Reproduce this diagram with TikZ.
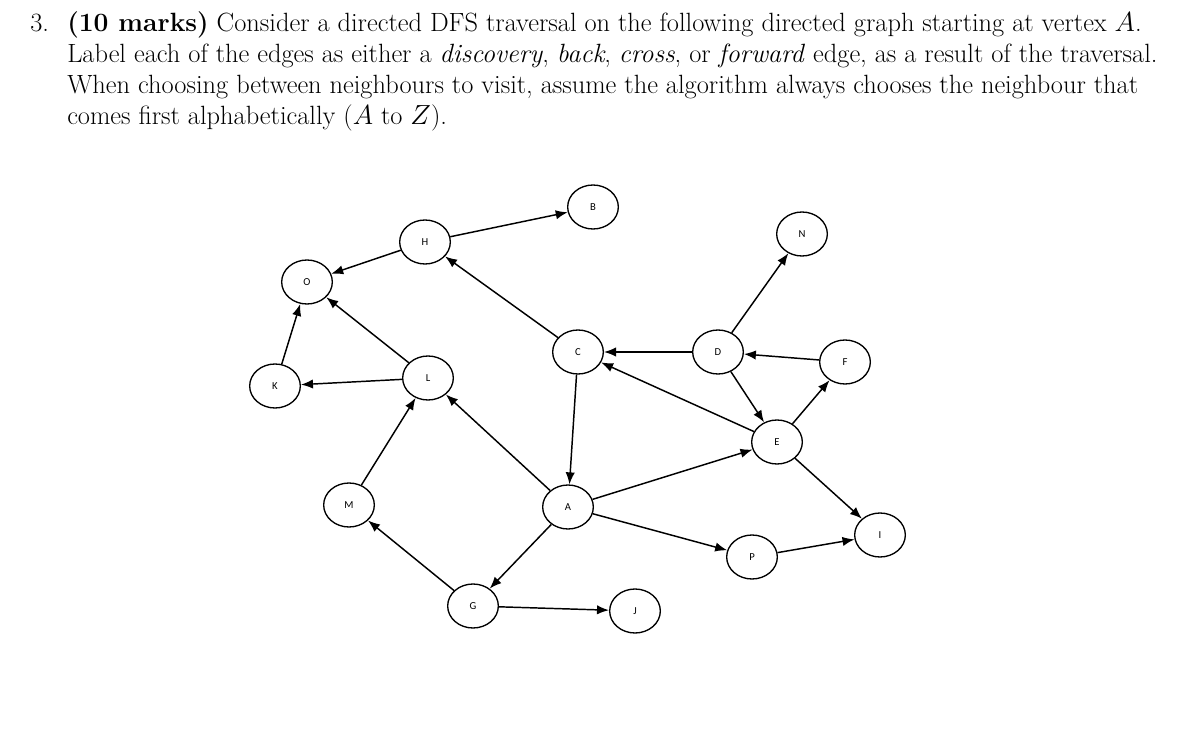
\documentclass[tikz,border=0pt]{standalone}
\usepackage{fontspec}
\newfontfamily\lblfont{Carlito}
\usetikzlibrary{shapes.geometric,arrows.meta}
\begin{document}
\begin{tikzpicture}[x=0.75pt,y=-0.75pt,
  vert/.style={ellipse,draw,line width=1pt,minimum width=38pt,minimum height=33pt,inner sep=0pt,font=\lblfont\fontsize{8}{9}\selectfont},
  edge/.style={line width=1.1pt,-{Latex[length=9pt,width=7pt]}},
  txt/.style={anchor=base west,inner sep=0pt,font=\fontsize{19.8}{23}\selectfont}]
\useasboundingbox (0,0) rectangle (1195,745);
\node[txt] (t0) at (30,32) {3.};
\node[txt] (t1) at (67,32) {\textbf{(10 marks)} Consider a directed DFS traversal on the following directed graph starting at vertex $A$.};
\node[txt] (t2) at (67,63) {Label each of the edges as either a \textit{discovery}, \textit{back}, \textit{cross}, or \textit{forward} edge, as a result of the traversal.};
\node[txt] (t3) at (67,94) {When choosing between neighbours to visit, assume the algorithm always chooses the neighbour that};
\node[txt] (t4) at (67,125) {comes first alphabetically ($A$ to $Z$).};
\node[vert] (B) at (593,207) {B};
\node[vert] (H) at (425,242) {H};
\node[vert] (N) at (802,234) {N};
\node[vert] (O) at (307,282) {O};
\node[vert] (C) at (578,352) {C};
\node[vert] (D) at (718,352) {D};
\node[vert] (F) at (845,362) {F};
\node[vert] (K) at (275,386) {K};
\node[vert] (L) at (428,378) {L};
\node[vert] (E) at (777,442) {E};
\node[vert] (M) at (349,505) {M};
\node[vert] (A) at (568,507) {A};
\node[vert] (I) at (880,535) {I};
\node[vert] (P) at (752,557) {P};
\node[vert] (G) at (473,606) {G};
\node[vert] (J) at (635,611) {J};
\foreach \a/\b in {H/B,H/O,C/H,L/O,L/K,K/O,M/L,A/L,C/A,D/C,D/N,F/D,D/E,E/F,E/C,A/E,E/I,A/P,P/I,A/G,G/M,G/J}
  \draw[edge] (\a) -- (\b);
\end{tikzpicture}
\end{document}
